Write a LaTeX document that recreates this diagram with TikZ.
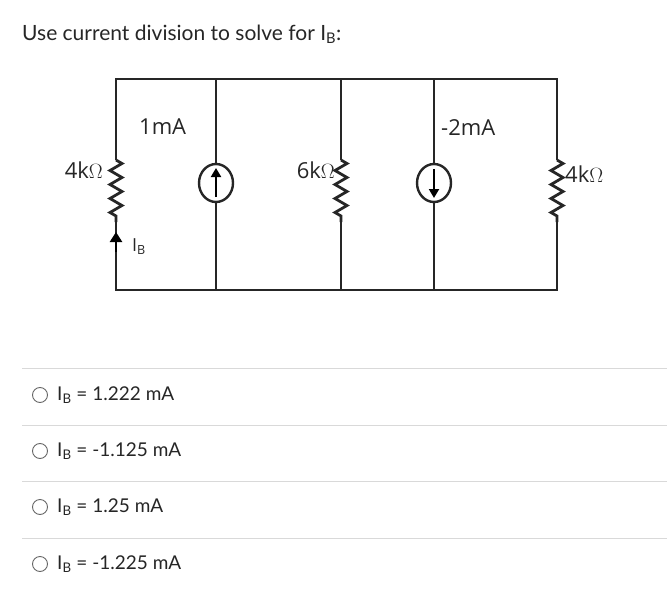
\documentclass[tikz,border=0pt]{standalone}
\usepackage{fontspec}
\setmainfont{Lato}
\newfontfamily\cfont{Open Sans}
\usetikzlibrary{decorations.pathmorphing,arrows.meta,shapes.geometric}
\begin{document}
\begin{tikzpicture}[x=1pt,y=-1pt,
  wire/.style={line width=2.8pt,draw=black!85},
  res/.style={wire,decorate,decoration={zigzag,segment length=14pt,amplitude=6pt}},
  src/.style={draw=black!85,line width=2.4pt,fill=white},
  lbl/.style={font=\cfont\fontsize{22}{26}\selectfont,inner sep=1pt,text=black!85},
  opt/.style={circle,draw=black!60,line width=0.9pt,minimum size=15pt,inner sep=0pt},
  otxt/.style={font=\fontsize{19}{22}\selectfont,anchor=west,inner sep=0pt,text=black!85},
  sep/.style={draw=black!15,line width=0.8pt}]
\useasboundingbox (0,0) rectangle (667,613);
\node[anchor=west,inner sep=0pt,font=\fontsize{21}{25}\selectfont,text=black!85] (title) at (22,34) {Use current division to solve for I\textsubscript{B}:};
\coordinate (tl) at (116,79); \coordinate (tr) at (557,79);
\coordinate (bl) at (116,290); \coordinate (br) at (557,290);
\coordinate (t1) at (216,79); \coordinate (t2) at (341,79); \coordinate (t3) at (434,79);
\coordinate (b1) at (216,290); \coordinate (b2) at (341,290); \coordinate (b3) at (434,290);
\draw[wire] (bl) -- (tl) -- (tr) -- (br) -- cycle;
\coordinate (r1a) at (116,160); \coordinate (r1b) at (116,222);
\draw[draw=white,line width=4pt] (r1a) -- (r1b);
\draw[res] (r1a) -- (r1b);
\coordinate (r3a) at (557,160); \coordinate (r3b) at (557,222);
\draw[draw=white,line width=4pt] (r3a) -- (r3b);
\draw[res] (r3a) -- (r3b);
\coordinate (r2a) at (341,160); \coordinate (r2b) at (341,222);
\draw[wire] (t2) -- (r2a); \draw[res] (r2a) -- (r2b); \draw[wire] (r2b) -- (b2);
% sources
\coordinate (s1n) at (216,164); \coordinate (s1s) at (216,202);
\draw[wire] (t1) -- (b1);
\draw[src] (216,183) ellipse [x radius=17, y radius=19];
\draw[line width=2pt,-{Triangle[length=9pt,width=10pt]}] (216,197) -- (216,168);
\coordinate (s2n) at (434,164); \coordinate (s2s) at (434,202);
\draw[wire] (t3) -- (b3);
\draw[src] (434,183) ellipse [x radius=17, y radius=19];
\draw[line width=2pt,-{Triangle[length=9pt,width=10pt]}] (434,169) -- (434,198);
% IB arrow
\coordinate (ia) at (116,252); \coordinate (ib) at (116,232);
\draw[-{Triangle[length=10pt,width=12pt]},line width=2.8pt] (ia) -- (ib);
% labels
\node[lbl,anchor=west] (l1) at (138,127) {1mA};
\node[lbl,anchor=west] (l2) at (440,128) {-2mA};
\node[lbl,anchor=east] (l3) at (104,170) {4k$\Omega$};
\node[lbl,anchor=east] (l4) at (336,170) {6k$\Omega$};
\node[lbl,anchor=west] (l5) at (564,174) {4k$\Omega$};
\node[lbl,anchor=west,font=\cfont\fontsize{18}{20}\selectfont] (l6) at (131,247) {I\textsubscript{B}};
\foreach \y/\t/\n in {395/1.222/a,451/-1.125/b,507/1.25/c,564/-1.225/d}{
  \node[opt] (o\n) at (40,\y) {};
  \node[otxt] (t\n) at (57,\y) {I\textsubscript{B} = \t\ mA};
}
\foreach \y in {368,425,481,538}{\draw[sep] (22,\y) -- (667,\y);}
\end{tikzpicture}
\end{document}
